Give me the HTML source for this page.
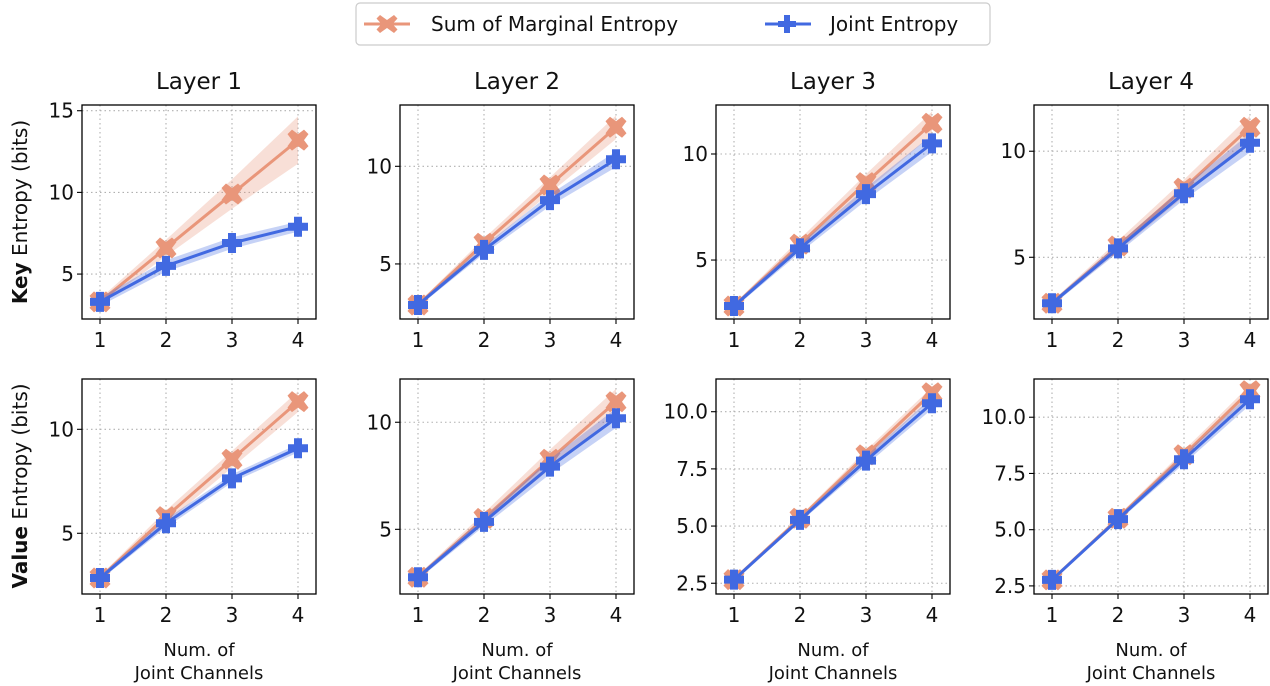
<!DOCTYPE html>
<html><head><meta charset="utf-8"><style>
body{margin:0;background:#fff;}
svg{display:block;font-family:"DejaVu Sans","Liberation Sans",sans-serif;}
</style></head><body>
<svg id="fig" width="1270" height="686" viewBox="0 0 1270 686">
<g>
<rect x="356" y="3" width="634" height="42" rx="4" fill="#fff" stroke="#ccc" stroke-width="1.2"/>
<g>
<line x1="364" y1="24" x2="410" y2="24" stroke="#E9967A" stroke-width="3"/>
<path d="M380,15 l7,5 l7,-5 l3.5,3.5 l-5,5.5 l5,5.5 l-3.5,3.5 l-7,-5 l-7,5 l-3.5,-3.5 l5,-5.5 l-5,-5.5z" fill="#E9967A"/>
<text x="431" y="31" font-size="20" fill="#111">Sum of Marginal Entropy</text>
</g>
<g>
<line x1="765" y1="24" x2="811" y2="24" stroke="#4169E1" stroke-width="3"/>
<path d="M784,15 h6 v6 h6 v6 h-6 v6 h-6 v-6 h-6 v-6 h6z" fill="#4169E1"/>
<text x="830" y="31" font-size="20" fill="#111">Joint Entropy</text>
</g>
</g>
<text transform="translate(27,212) rotate(-90)" text-anchor="middle" font-size="20" fill="#111"><tspan font-weight="bold">Key</tspan> Entropy (bits)</text>
<text transform="translate(27,486) rotate(-90)" text-anchor="middle" font-size="20" fill="#111"><tspan font-weight="bold">Value</tspan> Entropy (bits)</text>
</svg>
<script>
const categories=[1,2,3,4];
const layerTitles=["Layer 1","Layer 2","Layer 3","Layer 4"];
const keyMarginal=[[3.3,6.6,9.9,13.2],[2.9,6.06,9.04,12.0],[2.83,5.75,8.65,11.45],[2.83,5.53,8.26,11.13]];
const keyJoint=[[3.3,5.5,6.9,7.9],[2.9,5.72,8.27,10.36],[2.83,5.55,8.11,10.5],[2.83,5.42,8.02,10.4]];
const keyMarginalErr=[[0.2,0.5,0.9,1.45],[0.1,0.25,0.4,0.6],[0.1,0.25,0.4,0.55],[0.1,0.25,0.4,0.55]];
const keyJointErr=[[0.25,0.35,0.35,0.3],[0.1,0.2,0.3,0.4],[0.1,0.2,0.3,0.4],[0.1,0.2,0.3,0.45]];
const valMarginal=[[2.85,5.8,8.56,11.33],[2.76,5.51,8.27,10.96],[2.66,5.34,8.11,10.83],[2.77,5.51,8.33,11.18]];
const valJoint=[[2.85,5.48,7.64,9.09],[2.76,5.35,7.93,10.19],[2.66,5.27,7.86,10.37],[2.77,5.47,8.13,10.8]];
const valMarginalErr=[[0.1,0.3,0.4,0.5],[0.1,0.25,0.45,0.6],[0.05,0.1,0.2,0.25],[0.05,0.1,0.2,0.25]];
const valJointErr=[[0.1,0.2,0.2,0.2],[0.1,0.2,0.35,0.45],[0.05,0.1,0.2,0.25],[0.05,0.1,0.2,0.25]];
const keyYTicks=[[5,10,15],[5,10],[5,10],[5,10]];
const valYTicks=[[5,10],[5,10],[2.5,5.0,7.5,10.0],[2.5,5.0,7.5,10.0]];
const valYTickLabels=[["5","10"],["5","10"],["2.5","5.0","7.5","10.0"],["2.5","5.0","7.5","10.0"]];
const keyYLim=[[2.25,15.35],[2.18,13.14],[2.22,12.31],[2.09,12.18]];
const valYLim=[[2.08,12.42],[1.98,12.02],[2.03,11.43],[2.14,11.7]];

const NS="http://www.w3.org/2000/svg";
const svg=document.getElementById('fig');
const lefts=[82,400,716,1034], W=234;
const rows=[{top:105,bot:319},{top:379,bot:594}];
const MC="#E9967A", JC="#4169E1";
function mk(tag,attrs,parent){const e=document.createElementNS(NS,tag);for(const k in attrs)e.setAttribute(k,attrs[k]);(parent||svg).appendChild(e);return e;}

function panel(r,c,marg,joint,mErr,jErr,yt,ytl,ylim){
  const L=lefts[c],T=rows[r].top,B=rows[r].bot;
  const g=mk('g',{});
  
  
  const xs=v=>L+18+(v-1)*66;
  const ys=v=>B-(v-ylim[0])/(ylim[1]-ylim[0])*(B-T);
  categories.forEach(v=>{mk('line',{x1:xs(v),x2:xs(v),y1:T,y2:B,stroke:'#b0b0b0','stroke-width':1.1,'stroke-dasharray':'1.5,3'},g);});
  yt.forEach(v=>{mk('line',{x1:L,x2:L+W,y1:ys(v),y2:ys(v),stroke:'#b0b0b0','stroke-width':1.1,'stroke-dasharray':'1.5,3'},g);});
  function series(vals,err,color,isJoint){
    const sg=mk('g',{},g);
    
    
    let up=categories.map((v,i)=>xs(v)+','+ys(vals[i]+err[i]));
    let dn=categories.map((v,i)=>xs(v)+','+ys(vals[i]-err[i])).reverse();
    const band=mk('polygon',{points:up.concat(dn).join(' '),fill:color,'fill-opacity':0.3,stroke:'none'},sg);
    
    
    const ln=mk('polyline',{points:categories.map((v,i)=>xs(v)+','+ys(vals[i])).join(' '),fill:'none',stroke:color,'stroke-width':3},sg);
    
    
    categories.forEach((v,i)=>{
      const x=xs(v),y=ys(vals[i]);
      let d;
      if(isJoint) d=`M${x-4},${y-10} h8 v6 h6 v8 h-6 v6 h-8 v-6 h-6 v-8 h6z`;
      else d=`M${x-6},${y-10.5} l6,4.5 l6,-4.5 l4.5,4.5 l-4.5,6 l4.5,6 l-4.5,4.5 l-6,-4.5 l-6,4.5 l-4.5,-4.5 l4.5,-6 l-4.5,-6z`;
      const m=mk('path',{d:d,fill:color},sg);
      
      
    });
  }
  series(marg,mErr,MC,false);
  series(joint,jErr,JC,true);
  mk('rect',{x:L,y:T,width:W,height:B-T,fill:'none',stroke:'#000','stroke-width':1.3},g);
  categories.forEach(v=>{
    mk('line',{x1:xs(v),x2:xs(v),y1:B,y2:B+5,stroke:'#000','stroke-width':1.1},g);
    const t=mk('text',{x:xs(v),y:B+28,'text-anchor':'middle','font-size':20,fill:'#111'},g);
    t.textContent=v;
    
    
  });
  yt.forEach((v,i)=>{
    mk('line',{x1:L-5,x2:L,y1:ys(v),y2:ys(v),stroke:'#000','stroke-width':1.1},g);
    const t=mk('text',{x:L-8,y:ys(v)+7,'text-anchor':'end','font-size':20,fill:'#111'},g);
    t.textContent=ytl?ytl[i]:v;
    
    
  });
  if(r===0){
    const t=mk('text',{x:L+W/2,y:T-16,'text-anchor':'middle','font-size':23,fill:'#111'},g);
    t.textContent=layerTitles[c];
    
    
  } else {
    const t1=mk('text',{x:L+W/2,y:656,'text-anchor':'middle','font-size':18,fill:'#111'},g);
    t1.textContent='Num. of';
    
    
    const t2=mk('text',{x:L+W/2,y:679,'text-anchor':'middle','font-size':18,fill:'#111'},g);
    t2.textContent='Joint Channels';
    
    
  }
}
for(let c=0;c<4;c++){
  panel(0,c,keyMarginal[c],keyJoint[c],keyMarginalErr[c],keyJointErr[c],keyYTicks[c],null,keyYLim[c]);
  panel(1,c,valMarginal[c],valJoint[c],valMarginalErr[c],valJointErr[c],valYTicks[c],valYTickLabels[c],valYLim[c]);
}
</script>
</body></html>
